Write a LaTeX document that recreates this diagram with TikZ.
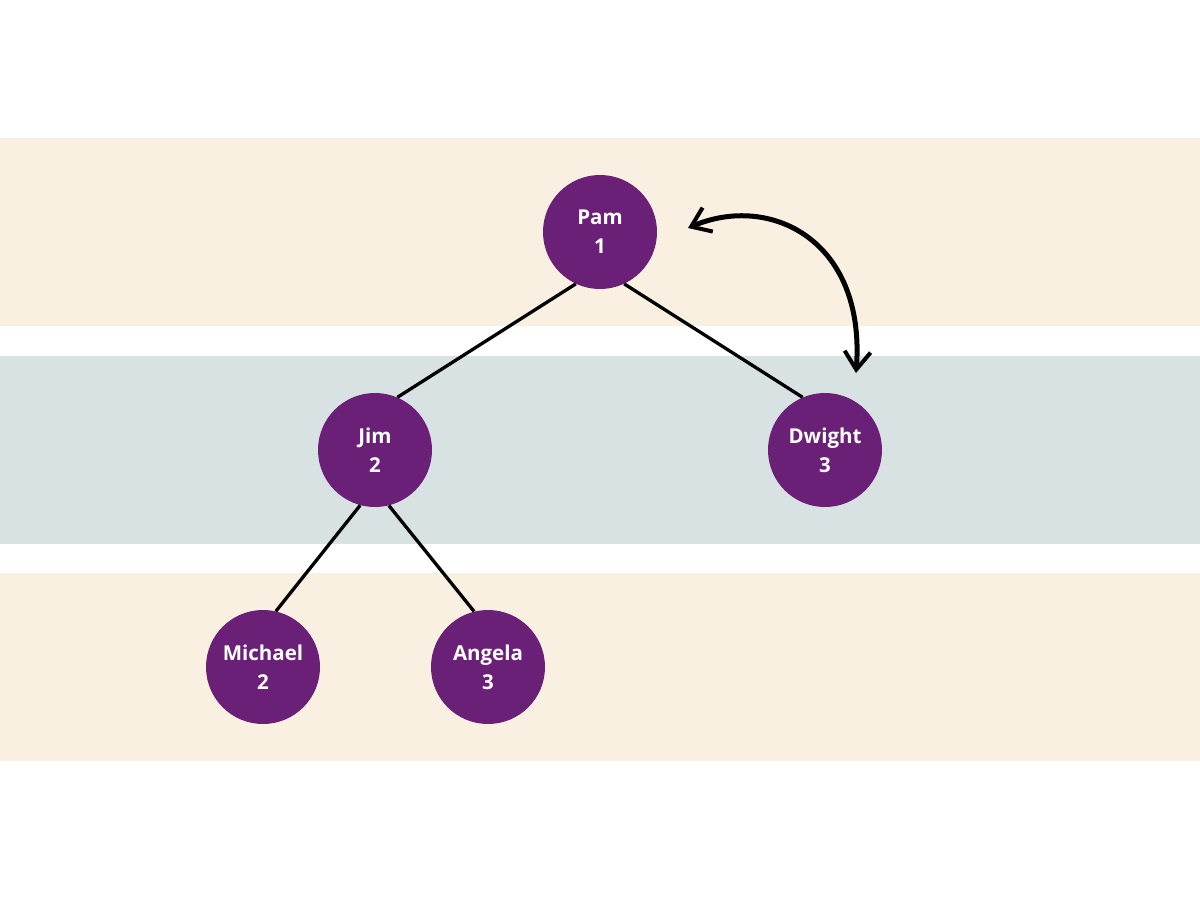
\documentclass[tikz,border=0pt]{standalone}
\usepackage{fontspec}
\setmainfont{Open Sans}
\usetikzlibrary{arrows.meta}
\definecolor{beige}{HTML}{FAF0E2}
\definecolor{bandgrey}{HTML}{D9E2E3}
\definecolor{heappurple}{HTML}{6A2077}
\tikzset{
  heapnode/.style={circle, fill=heappurple, minimum size=114pt, inner sep=0pt,
    text=white, font=\fontsize{20.5}{29}\selectfont\bfseries, align=center},
  edge/.style={line width=3.3pt, black},
  swaparrow/.style={line width=5pt, line cap=round,
    {Straight Barb[length=18pt,width=26pt,line width=4pt]}-{Straight Barb[length=18pt,width=26pt,line width=4pt]}}
}
\begin{document}
\begin{tikzpicture}[x=1pt,y=-1pt]
\useasboundingbox (0,0) rectangle (1200,900);
\fill[white] (0,0) rectangle (1200,900);
\fill[beige] (0,138) rectangle (1200,326);
\fill[bandgrey] (0,356) rectangle (1200,544);
\fill[beige] (0,573) rectangle (1200,761);
\node[heapnode] (pam) at (600,232) {Pam\\1};
\node[heapnode] (jim) at (375,450) {Jim\\2};
\node[heapnode] (dwight) at (825,450) {Dwight\\3};
\node[heapnode] (michael) at (263,667) {Michael\\2};
\node[heapnode] (angela) at (488,667) {Angela\\3};
\draw[edge] (pam.-115) -- (jim.67);
\draw[edge] (pam.-65) -- (dwight.113);
\draw[edge] (jim.-105) -- (michael.77);
\draw[edge] (jim.-76) -- (angela.104);
\coordinate (swapa) at (688,228);
\coordinate (swapb) at (856,373);
\draw[swaparrow] (swapa) .. controls (770,193) and (866,240) .. (swapb);
\end{tikzpicture}
\end{document}
